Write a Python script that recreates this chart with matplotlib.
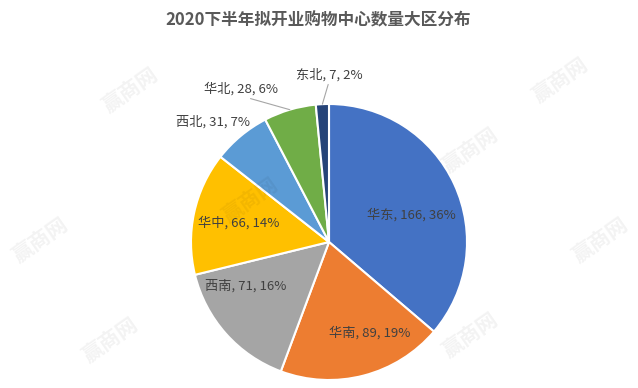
import numpy as np
import matplotlib.pyplot as plt

plt.rcParams['font.family'] = ['Noto Sans CJK SC', 'DejaVu Sans']

# data
regions = ['华东', '华南', '西南', '华中', '西北', '华北', '东北']
counts = [166, 89, 71, 66, 31, 28, 7]
colors = ['#4472C4', '#ED7D31', '#A5A5A5', '#FFC000', '#5B9BD5', '#70AD47', '#264478']

# label placement: (angle in degrees, radius as fraction of pie radius)
label_pos = [(18, 0.63), (-66, 0.72), (-152, 0.68), (168, 0.67),
             (134, 1.21), (120, 1.28), (90, 1.21)]
leader = [False, False, False, False, False, True, True]

W, H = 638, 388
fig = plt.figure(figsize=(W / 100, H / 100), dpi=100)

# faint site watermarks
for (wx, wy) in [(130, 90), (560, 80), (470, 150), (40, 240), (600, 240),
                 (470, 335), (110, 340), (250, 200)]:
    fig.text(wx / W, 1 - wy / H, '赢商网', fontsize=15, color='#000000', alpha=0.05,
             rotation=35, ha='center', va='center', weight='bold')

# pie centre at (329, 242) px, radius 138 px
cx, cy, R, half = 329, 242, 138, 150
ax = fig.add_axes([(cx - half) / W, (H - cy - half) / H, 2 * half / W, 2 * half / H])

wedges, _ = ax.pie(counts, colors=colors, startangle=90, counterclock=False,
                   wedgeprops=dict(edgecolor='white', linewidth=1.5))
ax.set_xlim(-half / R, half / R)
ax.set_ylim(-half / R, half / R)
ax.set_aspect('equal')
ax.axis('off')

total = sum(counts)
for i, (name, v) in enumerate(zip(regions, counts)):
    pct = round(v / total * 100)
    txt = f'{name}, {v}, {pct}%'
    ang, r = label_pos[i]
    tx, ty = r * np.cos(np.radians(ang)), r * np.sin(np.radians(ang))
    if leader[i]:
        w = wedges[i]
        mid = np.radians((w.theta1 + w.theta2) / 2)
        ax.annotate(txt, xy=(np.cos(mid), np.sin(mid)), xytext=(tx, ty),
                    ha='center', va='center', fontsize=9.5, color='#404040',
                    arrowprops=dict(arrowstyle='-', color='#A6A6A6', lw=0.8,
                                    relpos=(0.5, 0), shrinkA=0, shrinkB=0))
    else:
        ax.text(tx, ty, txt, ha='center', va='center', fontsize=9.5, color='#404040')

fig.text(318 / W, 1 - 20 / H, '2020下半年拟开业购物中心数量大区分布', ha='center', va='center',
         fontsize=12, weight='bold', color='#595959')

fig.savefig('out.png', dpi=100)
